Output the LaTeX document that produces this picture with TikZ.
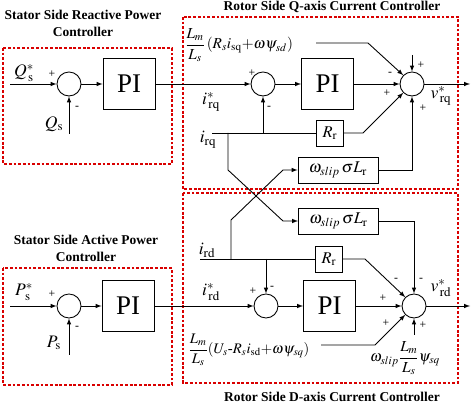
\documentclass[tikz,border=0pt]{standalone}
\usepackage{mathptmx}
\usepackage{fontspec}
\setmainfont{Liberation Serif}
\usetikzlibrary{arrows,positioning,calc}

\begin{document}
\begin{tikzpicture}[x=0.03cm,y=-0.03cm,>=latex,line width=0.75pt,
  sumnode/.style={draw,circle,minimum size=0.72cm,inner sep=0pt},
  piblock/.style={draw,minimum width=1.56cm,minimum height=1.53cm,inner sep=0pt,font=\fontsize{23}{23}\selectfont},
  gainblock/.style={draw,minimum height=0.78cm,inner sep=2pt,font=\fontsize{14}{14}\selectfont},
  ctrlbox/.style={red!85!black,line width=1.3pt,dash pattern=on 2.4pt off 1.6pt},
  title/.style={font=\bfseries\fontsize{11.5}{14.5}\selectfont,align=center},
  sgn/.style={font=\fontsize{10}{10}\selectfont,inner sep=0pt},
  lbl/.style={font=\fontsize{15}{15}\selectfont,inner sep=0pt}]
  \useasboundingbox (0,0) rectangle (474,404);

  % dashed controller frames
  \draw[ctrlbox] (3,48) rectangle (172,164);
  \draw[ctrlbox] (3,268) rectangle (172,385);
  \draw[ctrlbox] (183,17) rectangle (458,189);
  \draw[ctrlbox] (183,193) rectangle (458,383);
  \node[title] at (83,23) {Stator Side Reactive Power\\Controller};
  \node[title] at (86,248) {Stator Side Active Power\\Controller};
  \node[title] at (332,7) {Rotor Side Q-axis Current Controller};
  \node[title] at (332,397) {Rotor Side D-axis Current Controller};

  % reactive power loop
  \coordinate (Qin) at (10,84);
  \coordinate (Qsin) at (69,134);
  \node[sumnode] (sQ) at (69,84) {};
  \node[piblock] (piQ) at (129,84) {PI};
  \node[lbl] (Qref) at (24,73) {$Q^{*}_{\,\mathrm{s}}$};
  \node[lbl] (Qs) at (54,124) {$Q_{\mathrm{s}}$};
  \node[sgn] at (52,74) {+};
  \node[sgn] at (77,108) {-};
  \draw[->] (Qin) -- (sQ);
  \draw[->] (Qsin) -- (sQ);
  \draw[->] (sQ) -- (piQ);

  % q-axis current loop
  \node[sumnode] (sQa) at (263,84) {};
  \node[piblock] (piQa) at (327.5,84) {PI};
  \node[sumnode] (sQb) at (412,84) {};
  \node[gainblock,minimum width=0.81cm] (RQ) at (330,133) {$R_{\mathrm{r}}$};
  \node[gainblock,minimum width=2.4cm] (wQ) at (338,170) {$\omega_{slip}\,\sigma L_{\mathrm{r}}$};
  \node[lbl] (irqref) at (211,102) {$i^{*}_{\,\mathrm{rq}}$};
  \node[lbl] (irq) at (208,140) {$i_{\mathrm{rq}}$};
  \node[lbl] (vrq) at (441,96) {$v^{*}_{\,\mathrm{rq}}$};
  \node[lbl,font=\fontsize{13}{13}\selectfont] (ffQ) at (239,45) {${\displaystyle\frac{L_m}{L_s}}\,(R_s i_{\mathrm{sq}}{+}\omega\psi_{sd})$};
  \coordinate (irqin) at (212,133);
  \coordinate (irqbr) at (228,133);
  \coordinate (ffQin) at (316,43);
  \coordinate (topQ) at (412,55);
  \coordinate (vQout) at (470,84);
  \node[sgn] at (252,73) {+};
  \node[sgn] at (269,108) {-};
  \node[sgn] at (390,74) {-};
  \node[sgn] at (421,65) {+};
  \node[sgn] at (387,93) {+};
  \node[sgn] at (423,108) {+};
  \draw[->] (piQ) -- (sQa);
  \draw[->] (sQa) -- (piQa);
  \draw[->] (piQa) -- (sQb);
  \draw[->] (sQb) -- (vQout);
  \draw (irqin) -- (RQ);
  \draw[->] (sQa |- irqin) -- (sQa);
  \draw[->] (RQ.east) -- (363,133) -- (sQb.south west);
  \draw[->] (ffQin) -- (368,43) -- (sQb.north west);
  \draw[->] (topQ) -- (sQb);
  \draw[->] (wQ.east) -| (sQb.south);

  % active power loop
  \coordinate (Pin) at (10,306);
  \coordinate (Psin) at (69,355);
  \node[sumnode] (sP) at (69,306) {};
  \node[piblock] (piP) at (128,306) {PI};
  \node[lbl] (Pref) at (24,292) {$P^{*}_{\,\mathrm{s}}$};
  \node[lbl] (Ps) at (54,343) {$P_{\mathrm{s}}$};
  \node[sgn] at (52,294) {+};
  \node[sgn] at (77,328) {-};
  \draw[->] (Pin) -- (sP);
  \draw[->] (Psin) -- (sP);
  \draw[->] (sP) -- (piP);

  % d-axis current loop
  \node[sumnode] (sDa) at (266,306) {};
  \node[piblock] (piDa) at (329.5,306) {PI};
  \node[sumnode] (sDb) at (414,306) {};
  \node[gainblock,minimum width=0.81cm] (RD) at (329,259) {$R_{\mathrm{r}}$};
  \node[gainblock,minimum width=2.4cm] (wD) at (338.5,221) {$\omega_{slip}\,\sigma L_{\mathrm{r}}$};
  \node[lbl] (irdref) at (211,292) {$i^{*}_{\,\mathrm{rd}}$};
  \node[lbl] (ird) at (207,250) {$i_{\mathrm{rd}}$};
  \node[lbl] (vrd) at (441,288) {$v^{*}_{\,\mathrm{rd}}$};
  \node[lbl,font=\fontsize{12.5}{12.5}\selectfont] (ffD) at (249,350) {${\displaystyle\frac{L_m}{L_s}}(U_s\mbox{-}R_s i_{\mathrm{sd}}{+}\omega\psi_{sq})$};
  \node[lbl,font=\fontsize{13}{13}\selectfont] (ffDb) at (405,358) {$\omega_{slip}{\displaystyle\frac{L_m}{L_s}}\psi_{sq}$};
  \coordinate (irdin) at (200,259);
  \coordinate (irdbr) at (231,259);
  \coordinate (ffDin) at (321,345);
  \coordinate (botD) at (414,335);
  \coordinate (vDout) at (470,306);
  \node[sgn] at (253,291) {+};
  \node[sgn] at (272,288) {-};
  \node[sgn] at (396,280) {-};
  \node[sgn] at (421,280) {-};
  \node[sgn] at (383,298) {+};
  \node[sgn] at (386,323) {+};
  \node[sgn] at (423,325) {+};
  \draw[->] (piP) -- (sDa);
  \draw[->] (sDa) -- (piDa);
  \draw[->] (piDa) -- (sDb);
  \draw[->] (sDb) -- (vDout);
  \draw (irdin) -- (RD);
  \draw[->] (sDa |- irdin) -- (sDa);
  \draw[->] (RD.east) -- (365,259) -- (sDb.north west);
  \draw[->] (ffDin) -- (375,345) -- (sDb.south west);
  \draw[->] (botD) -- (sDb);
  \draw[->] (wD.east) -| (sDb.north);

  % cross coupling
  \draw[->] (irqbr) -- (228,170) -- (283,221) -- (wD.west);
  \draw[->] (irdbr) -- (231,220) -- (283,170) -- (wQ.west);
\end{tikzpicture}
\end{document}
